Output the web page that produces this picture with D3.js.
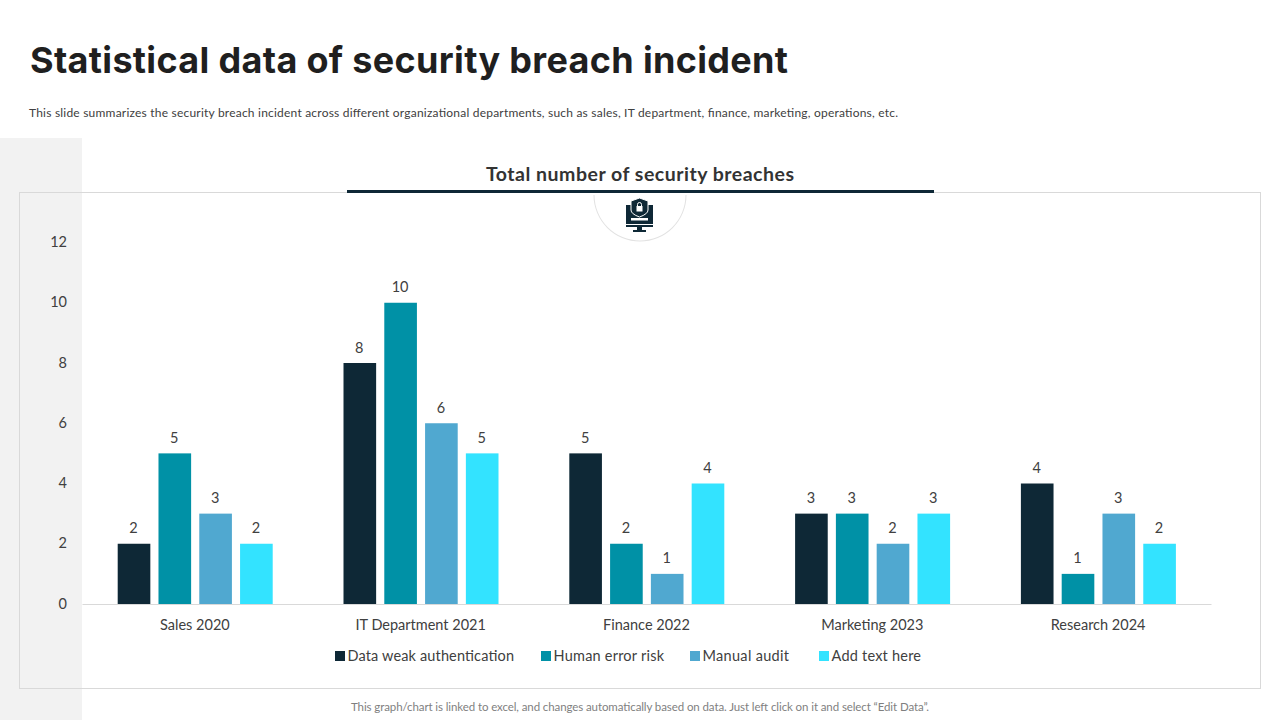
<!DOCTYPE html>
<html><head><meta charset="utf-8">
<script src="https://cdn.jsdelivr.net/npm/d3@7"></script>
<style>html,body{margin:0;padding:0;background:#fff;overflow:hidden}svg{display:block}text{font-family:Lato,sans-serif}</style>
</head><body><svg id="c" width="1280" height="720"></svg>
<script>
const categories = ["Sales 2020","IT Department 2021","Finance 2022","Marketing 2023","Research 2024"];
const seriesNames = ["Data weak authentication","Human error risk","Manual audit","Add text here"];
const dataWeakAuthentication = [2,8,5,3,4];
const humanErrorRisk = [5,10,2,3,1];
const manualAudit = [3,6,1,2,3];
const addTextHere = [2,5,4,3,2];
const seriesValues = [dataWeakAuthentication,humanErrorRisk,manualAudit,addTextHere];
const seriesColors = ["#0e2836","#0091a6","#50a8d0","#33e3ff"];
const yTicks = [0,2,4,6,8,10,12];

const svg = d3.select("#c");
svg.append("rect").attr("x",0).attr("y",138).attr("width",82).attr("height",582).attr("fill","#f2f2f2");
svg.append("rect").attr("x",19.5).attr("y",192.5).attr("width",1241).attr("height",496).attr("fill","none").attr("stroke","#d9d9d9");
svg.append("rect").attr("x",82).attr("y",193).attr("width",1178).attr("height",495).attr("fill","#fff");

svg.append("text").attr("x",30).attr("y",73).attr("font-size",36).attr("font-weight",700).attr("fill","#1f1f1f")
  .style("font-family","Inter,sans-serif").attr("textLength",758).attr("lengthAdjust","spacing").text("Statistical data of security breach incident");
svg.append("text").attr("x",29).attr("y",117).attr("font-size",12).attr("fill","#404040").attr("textLength",869)
  .text("This slide summarizes the security breach incident across different organizational departments, such as sales, IT department, finance, marketing, operations, etc.");
svg.append("text").attr("x",640).attr("y",181).attr("text-anchor","middle").attr("font-size",19.5).attr("font-weight",700).attr("fill","#333")
  .attr("textLength",308).text("Total number of security breaches");

// badge
svg.append("path").attr("d",d3.arc()({innerRadius:45.5,outerRadius:46.5,startAngle:Math.PI/2,endAngle:Math.PI*1.5})).attr("transform","translate(640,195)").attr("fill","#e2e2e2");
svg.append("rect").attr("x",347).attr("y",190).attr("width",587).attr("height",3).attr("fill","#0e2836");
const ic = svg.append("g").attr("transform","translate(640,215)").attr("fill","#0e2836");
ic.append("rect").attr("x",-14).attr("y",-10).attr("width",27).attr("height",22);
ic.append("rect").attr("x",-14).attr("y",9).attr("width",27).attr("height",1).attr("fill","#fff");
ic.append("rect").attr("x",-3).attr("y",12).attr("width",5).attr("height",3);
ic.append("rect").attr("x",-7).attr("y",15).attr("width",13).attr("height",2);
ic.append("path").attr("d","M-0.5,-17 L8,-14 V-5 Q8,-1 -0.5,2 Q-9,-1 -9,-5 V-14 Z").attr("stroke","#fff").attr("stroke-width",1);
ic.append("rect").attr("x",-3.5).attr("y",-9).attr("width",6).attr("height",5.5).attr("fill","#fff");
ic.append("path").attr("d","M-2.5,-9 V-10.5 A2,2 0 0 1 1.5,-10.5 V-9").attr("fill","none").attr("stroke","#fff").attr("stroke-width",1);
ic.append("rect").attr("x",-9).attr("y",3).attr("width",17).attr("height",2.5).attr("fill","#fff");

const y = d3.scaleLinear().domain([0,12]).range([604,242.5]);
const x0 = d3.scaleBand().domain(categories).range([82,1211]);
const x1 = d3.scaleBand().domain(seriesNames).range([35.7,190.7]).paddingInner(0.2).paddingOuter(0);

const yAxis = d3.axisLeft(y).tickValues(yTicks).tickSize(0).tickPadding(0);
const ya = svg.append("g").attr("transform","translate(67,-0.5)").call(yAxis);
ya.select(".domain").remove();
ya.selectAll("text").attr("font-size",14.5).attr("fill","#404040").style("font-family","Lato,sans-serif");

seriesNames.forEach((s,i)=>{
  svg.append("g").selectAll("rect").data(seriesValues[i]).join("rect")
    .attr("x",(d,j)=>x0(categories[j])+x1(s)).attr("y",d=>y(d))
    .attr("width",x1.bandwidth()).attr("height",d=>y(0)-y(d)).attr("fill",seriesColors[i]);
  svg.append("g").selectAll("text").data(seriesValues[i]).join("text")
    .attr("x",(d,j)=>x0(categories[j])+x1(s)+x1.bandwidth()/2-0.5).attr("y",d=>y(d)-10.5)
    .attr("text-anchor","middle").attr("font-size",14.5).attr("fill","#404040").text(d=>d);
});

const xAxis = d3.axisBottom(x0).tickSize(0).tickPadding(16);
const xa = svg.append("g").attr("transform","translate(0,604)").call(xAxis);
xa.select(".domain").attr("stroke","#d9d9d9");
xa.selectAll("text").attr("font-size",14.5).attr("fill","#404040").style("font-family","Lato,sans-serif");

const lx = [335,541,690,819];
const lw = [179,123,99,102];
seriesNames.forEach((s,i)=>{
  svg.append("rect").attr("x",lx[i]).attr("y",651).attr("width",10).attr("height",10).attr("fill",seriesColors[i]);
  svg.append("text").attr("x",lx[i]+12.5).attr("y",661).attr("font-size",14.5).attr("fill","#404040").attr("textLength",lw[i]-12.5).text(s);
});
svg.append("text").attr("x",640).attr("y",711).attr("text-anchor","middle").attr("font-size",11.5).attr("fill","#7f7f7f").attr("textLength",578)
  .text("This graph/chart is linked to excel, and changes automatically based on data. Just left click on it and select “Edit Data”.");
</script></body></html>
